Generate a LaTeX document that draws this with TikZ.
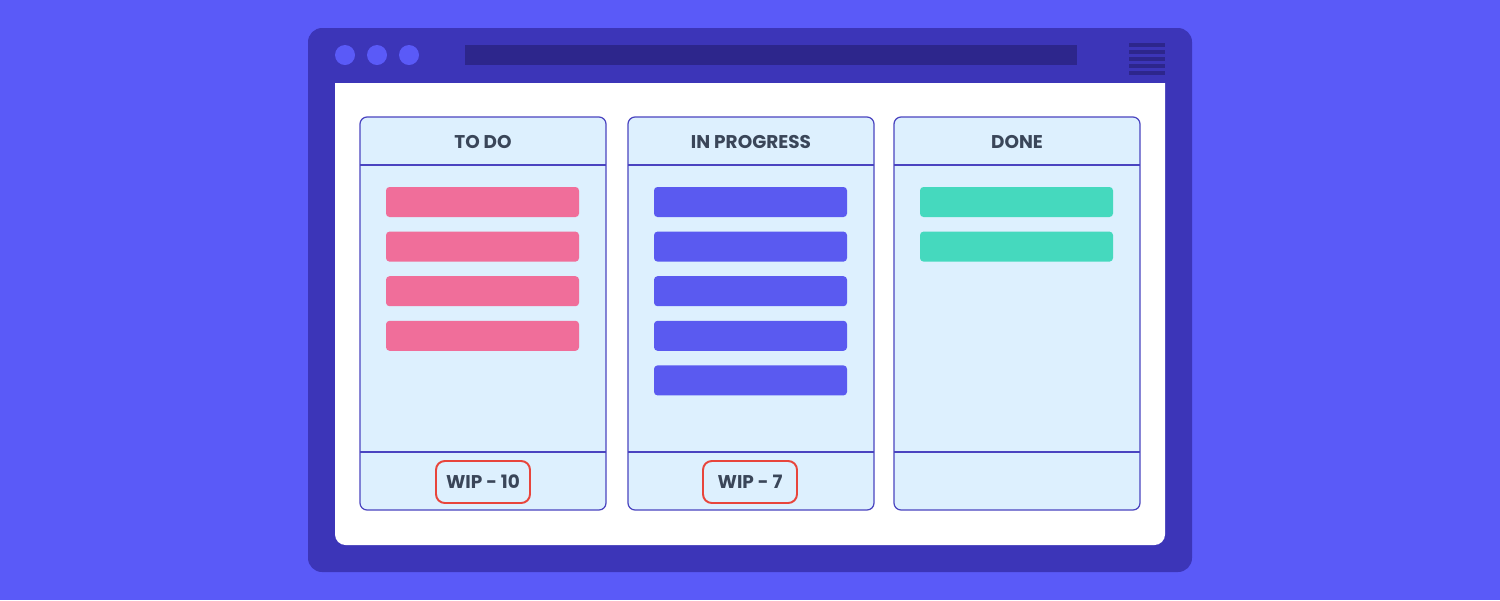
\documentclass[tikz,border=0pt]{standalone}
\usepackage{fontspec}
\setmainfont{Poppins}
\usetikzlibrary{positioning}
\definecolor{bgblue}{HTML}{5A5AF8}
\definecolor{frame}{HTML}{3C35B8}
\definecolor{bar}{HTML}{2D268C}
\definecolor{colfill}{HTML}{DDF0FE}
\definecolor{colline}{HTML}{4A44C0}
\definecolor{pinkcard}{HTML}{F06E9A}
\definecolor{bluecard}{HTML}{5A5AF0}
\definecolor{greencard}{HTML}{45D9BE}
\definecolor{txt}{HTML}{3A4659}
\definecolor{wipred}{HTML}{E8453C}
\tikzset{
	column/.style={draw=colline, fill=colfill, line width=0.7pt, rounded corners=4pt},
	card/.style={rounded corners=2pt, inner sep=0pt},
	title/.style={text=txt, font=\bfseries\fontsize{10.5}{12}\selectfont},
	wip/.style={draw=wipred, line width=1.1pt, rounded corners=5pt, minimum width=1.88cm, minimum height=0.84cm, text=txt, font=\bfseries\fontsize{10.5}{12}\selectfont}
}
\begin{document}
\begin{tikzpicture}[x=0.02cm, y=-0.02cm]
\fill[bgblue] (0,0) rectangle (1500,600);
\fill[frame, rounded corners=8pt] (308,28) rectangle (1192,572);
\foreach \x in {345,377,409} \fill[bgblue] (\x,55) circle (10);
\fill[bar] (465,45) rectangle (1077,65);
\foreach \y in {45,52,59,66,73} \draw[bar, line width=1.8pt] (1129,\y) -- (1165,\y);
\fill[white] (335,83) -- (1165,83) [rounded corners=6pt] -- (1165,545) -- (335,545) [sharp corners] -- cycle;

% columns
\foreach \xa/\name/\lbl in {360/todo/TO DO, 628/prog/IN PROGRESS, 894/done/DONE} {
  \draw[column] (\xa,117) rectangle (\xa+246,510);
  \draw[colline, line width=0.7pt] (\xa,165) -- (\xa+246,165);
  \draw[colline, line width=0.7pt] (\xa,452) -- (\xa+246,452);
  \node[title] (\name) at (\xa+123,142) {\lbl};
}

% cards
\foreach \i in {0,...,3} \fill[pinkcard, card] (386,187+44.6*\i) rectangle (579,217+44.6*\i);
\foreach \i in {0,...,4} \fill[bluecard, card] (654,187+44.6*\i) rectangle (847,217+44.6*\i);
\foreach \i in {0,1} \fill[greencard, card] (920,187+44.6*\i) rectangle (1113,217+44.6*\i);

% wip limits
\node[wip] (wiptodo) at (483,482) {WIP - 10};
\node[wip] (wipprog) at (750,482) {WIP - 7};
\end{tikzpicture}
\end{document}
